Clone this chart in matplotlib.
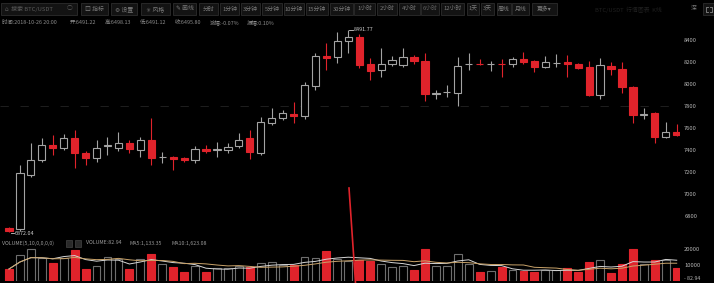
import numpy as np
import pandas as pd
import matplotlib
matplotlib.use("Agg")
import matplotlib.pyplot as plt
from matplotlib.patches import Rectangle
from matplotlib.lines import Line2D

plt.rcParams['font.family'] = ['Noto Sans CJK SC', 'DejaVu Sans']

# candle data
opens = [6691, 6682, 7173, 7309, 7445, 7418, 7509, 7373, 7327, 7436,
         7418, 7464, 7400, 7491, 7336, 7336, 7327, 7309, 7409, 7400,
         7400, 7436, 7509, 7373, 7645, 7691, 7727, 7709, 7982, 8255,
         8245, 8391, 8427, 8182, 8127, 8182, 8173, 8245, 8209, 7912,
         7924, 7918, 8180, 8186, 8180, 8184, 8182, 8227, 8209, 8155,
         8188, 8200, 8182, 8155, 7900, 8164, 8136, 7973, 7722, 7736,
         7518, 7564]
highs = [6700, 7264, 7464, 7509, 7536, 7545, 7582, 7391, 7491, 7518,
         7564, 7491, 7518, 7691, 7382, 7345, 7336, 7436, 7445, 7473,
         7464, 7555, 7582, 7700, 7782, 7760, 7836, 8018, 8282, 8373,
         8473, 8491.77, 8455, 8236, 8327, 8255, 8327, 8264, 8282, 7945,
         7991, 8245, 8282, 8227, 8209, 8227, 8245, 8291, 8220, 8255,
         8273, 8264, 8190, 8209, 8236, 8200, 8200, 7985, 7782, 7745,
         7655, 7636]
lows = [6655, 6664, 7155, 7291, 7355, 7400, 7236, 7264, 7291, 7355,
        7391, 7373, 7336, 7264, 7282, 7218, 7291, 7282, 7373, 7336,
        7373, 7418, 7318, 7355, 7627, 7673, 7645, 7682, 7945, 8127,
        8191, 8282, 8145, 8036, 8064, 8164, 8155, 8182, 7845, 7864,
        7882, 7800, 8127, 8170, 8118, 8064, 8155, 8182, 8109, 8145,
        8155, 8064, 8140, 7890, 7864, 8082, 7918, 7645, 7682, 7464,
        7510, 7530]
closes = [6664, 7191, 7309, 7445, 7418, 7509, 7373, 7327, 7418, 7445,
          7464, 7409, 7491, 7327, 7340, 7318, 7309, 7409, 7391, 7405,
          7427, 7491, 7382, 7655, 7691, 7736, 7709, 7991, 8255, 8236,
          8391, 8427, 8173, 8118, 8182, 8218, 8245, 8209, 7909, 7918,
          7930, 8164, 8185, 8180, 8184, 8180, 8227, 8200, 8155, 8200,
          8193, 8182, 8145, 7900, 8173, 8136, 7973, 7718, 7727, 7518,
          7564, 7536]
volumes = [7500, 16250, 20000, 14400, 11250, 14400, 19400, 7500, 9400, 15000,
           13750, 7500, 13750, 16900, 10600, 8750, 5600, 9400, 5600, 8100,
           8100, 9400, 8750, 11250, 11900, 10000, 10000, 15000, 14400, 18750,
           13750, 12500, 13100, 12500, 10600, 8750, 9400, 6900, 20000, 9400,
           9400, 16900, 10600, 5600, 6250, 8750, 6900, 6250, 5600, 6900,
           6900, 8100, 5600, 11900, 13100, 5000, 10600, 20000, 10600, 13100,
           13100, 8100]

price_ticks = [6800, 7000, 7200, 7400, 7600, 7800, 8000, 8200, 8400]
vol_ticks = [10000, 20000]

toolbar_labels = ['分时', '1分钟', '3分钟', '5分钟', '10分钟', '15分钟', '30分钟',
                  '1小时', '2小时', '4小时', '6小时', '12小时', '1天', '3天',
                  '周线', '月线', '更多▾']
info_items = ['时间:2018-10-26 20:00', '开:6491.22', '高:6498.13', '低:6491.12',
              '收:6495.80', '涨幅:-0.07%', '振幅:0.10%']

RED = '#e0232b'
GRAY = '#a3a3a3'
W, H = 714, 283

fig = plt.figure(figsize=(W / 100, H / 100), dpi=100)
fig.patch.set_facecolor('black')


def fx(px):
    return px / W


def fy(py):
    return 1 - py / H


# ---- toolbar ----
btn_x = [(81, 108), (111, 137), (141, 170), (173, 196)]
btn_txt = ['▥ 指标', '⚙ 设置', '☼ 风格', '✎ 画线']
tf_x = [(199, 218), (220, 239), (241, 260), (262, 282), (284, 304), (306, 328),
        (330, 353), (354, 375), (377, 397), (399, 420), (421, 439), (441, 464),
        (467, 479), (481, 494), (497, 511), (512, 529), (532, 557)]


def button(x0, x1, text, color='#7a7a7a'):
    fig.patches.append(Rectangle((fx(x0), fy(15)), fx(x1 - x0), 12 / H,
                                 transform=fig.transFigure, facecolor='#131313',
                                 edgecolor='#2c2c2c', linewidth=0.6))
    fig.text(fx((x0 + x1) / 2), fy(9), text, color=color, fontsize=4.2,
             ha='center', va='center')


button(1, 77, '')
fig.text(fx(5), fy(9), '⌂  搜索 BTC/USDT', color='#5a5a5a', fontsize=4.2, va='center')
fig.text(fx(70), fy(9), '○', color='#5a5a5a', fontsize=4.2, va='center', ha='center')
for (a, b), t in zip(btn_x, btn_txt):
    button(a, b, t)
for (a, b), t in zip(tf_x, toolbar_labels):
    button(a, b, t, '#5f5f5f' if t == '6小时' else '#7a7a7a')
fig.text(fx(628), fy(10), 'BTC/USDT  行情图表  K线', color='#202020', fontsize=4.2,
         ha='center', va='center')
fig.text(fx(694), fy(8), '深', color='#7a7a7a', fontsize=4.2, ha='center', va='center')
fig.patches.append(Rectangle((fx(703), fy(15)), fx(11), 12 / H, transform=fig.transFigure,
                             facecolor='#131313', edgecolor='#2c2c2c', linewidth=0.6))
# fullscreen icon: four corner brackets
for cx, cy, dx, dy in [(705.5, 6.5, 1, 1), (711.5, 6.5, -1, 1),
                       (705.5, 12, 1, -1), (711.5, 12, -1, -1)]:
    fig.lines.append(Line2D([fx(cx + 2 * dx), fx(cx), fx(cx)],
                            [fy(cy), fy(cy), fy(cy + 2 * dy)],
                            transform=fig.transFigure, color='#8a8a8a', linewidth=0.6))

info_x = [2, 70, 105, 140, 175, 210, 247]
for x, t in zip(info_x, info_items):
    fig.text(fx(x), fy(22.5), t, color='#8c8c8c', fontsize=3.9, va='center')

# ---- price panel ----
ax = fig.add_axes([0, fy(237), fx(680), (237 - 27) / H])
ax.set_facecolor('black')
x = np.arange(len(opens))
o = np.array(opens, float)
c = np.array(closes, float)
up = c >= o
colors = np.where(up, GRAY, RED)
ax.vlines(x, lows, highs, colors=colors, linewidth=0.8, zorder=1)
body_lo = np.minimum(o, c)
body_h = np.maximum(np.abs(c - o), 4)
ax.bar(x, body_h, bottom=body_lo, width=0.66,
       color=np.where(up, 'black', RED), edgecolor=colors, linewidth=0.8, zorder=2)
ax.axhline(7800, color='#232323', linewidth=0.6, linestyle=(0, (10, 14)), zorder=0)
ax.set_xlim(-0.82, 61.3)
ax.set_ylim(6609, 8518)
ax.yaxis.tick_right()
ax.set_yticks(price_ticks)
ax.set_yticklabels([str(t) for t in price_ticks])
ax.tick_params(axis='y', length=0, pad=3, labelsize=4.2, labelcolor='#b4b4b4')
ax.set_xticks([])
for s in ax.spines.values():
    s.set_visible(False)

# high / low markers
hi = int(np.argmax(highs))
lo = int(np.argmin(lows))
ax.plot([hi + 0.1, hi + 0.45], [highs[hi], highs[hi]], color='#cccccc', linewidth=0.6)
ax.text(hi + 0.5, highs[hi], '8491.77', color='#cccccc', fontsize=3.9, va='center')
ax.plot([lo + 0.2, lo + 0.5], [lows[lo] - 10, lows[lo] - 10], color='#cccccc', linewidth=0.6)
ax.text(lo + 0.55, lows[lo] - 10, '6872.04', color='#cccccc', fontsize=3.9, va='center')

# ---- volume panel ----
axv = fig.add_axes([0, fy(281), fx(680), (281 - 240) / H])
axv.set_facecolor('black')
axv.bar(x, volumes, width=0.72, color=np.where(up, 'black', RED),
        edgecolor=np.where(up, '#6e6e6e', RED), linewidth=0.8)
vol = pd.Series(volumes, dtype=float)
axv.plot(x, vol.rolling(5, min_periods=1).mean(), color='#d6d6d6', linewidth=0.7)
axv.plot(x, vol.rolling(10, min_periods=1).mean(), color='#c9a36a', linewidth=0.7)
axv.set_xlim(-0.82, 61.3)
axv.set_ylim(0, 25625)
axv.yaxis.tick_right()
axv.set_yticks(vol_ticks)
axv.set_yticklabels([str(t) for t in vol_ticks])
axv.tick_params(axis='y', length=0, pad=3, labelsize=4.2, labelcolor='#b4b4b4')
axv.set_xticks([])
for s in axv.spines.values():
    s.set_visible(False)

fig.text(fx(2), fy(243), 'VOLUME(5,10,0,0,0,0)', color='#9a9a9a', fontsize=3.8, va='center')
for bx in (66, 75):
    fig.patches.append(Rectangle((fx(bx), fy(246.5)), fx(6), 7 / H, transform=fig.transFigure,
                                 facecolor='#2a2a2a', edgecolor='#444444', linewidth=0.5))
fig.text(fx(86), fy(243), 'VOLUME:82.94', color='#9a9a9a', fontsize=3.8, va='center')
fig.text(fx(130), fy(243), 'MA5:1,133.35', color='#9a9a9a', fontsize=3.8, va='center')
fig.text(fx(171), fy(243), 'MA10:1,623.08', color='#9a9a9a', fontsize=3.8, va='center')
fig.text(fx(684), fy(278), '- 82.94', color='#b4b4b4', fontsize=3.8, va='center')

# red cursor line
fig.lines.append(Line2D([fx(349), fx(355.5)], [fy(188), fy(283)], transform=fig.transFigure,
                        color=RED, linewidth=1.2))

fig.savefig('out.png', dpi=100, facecolor='black')
